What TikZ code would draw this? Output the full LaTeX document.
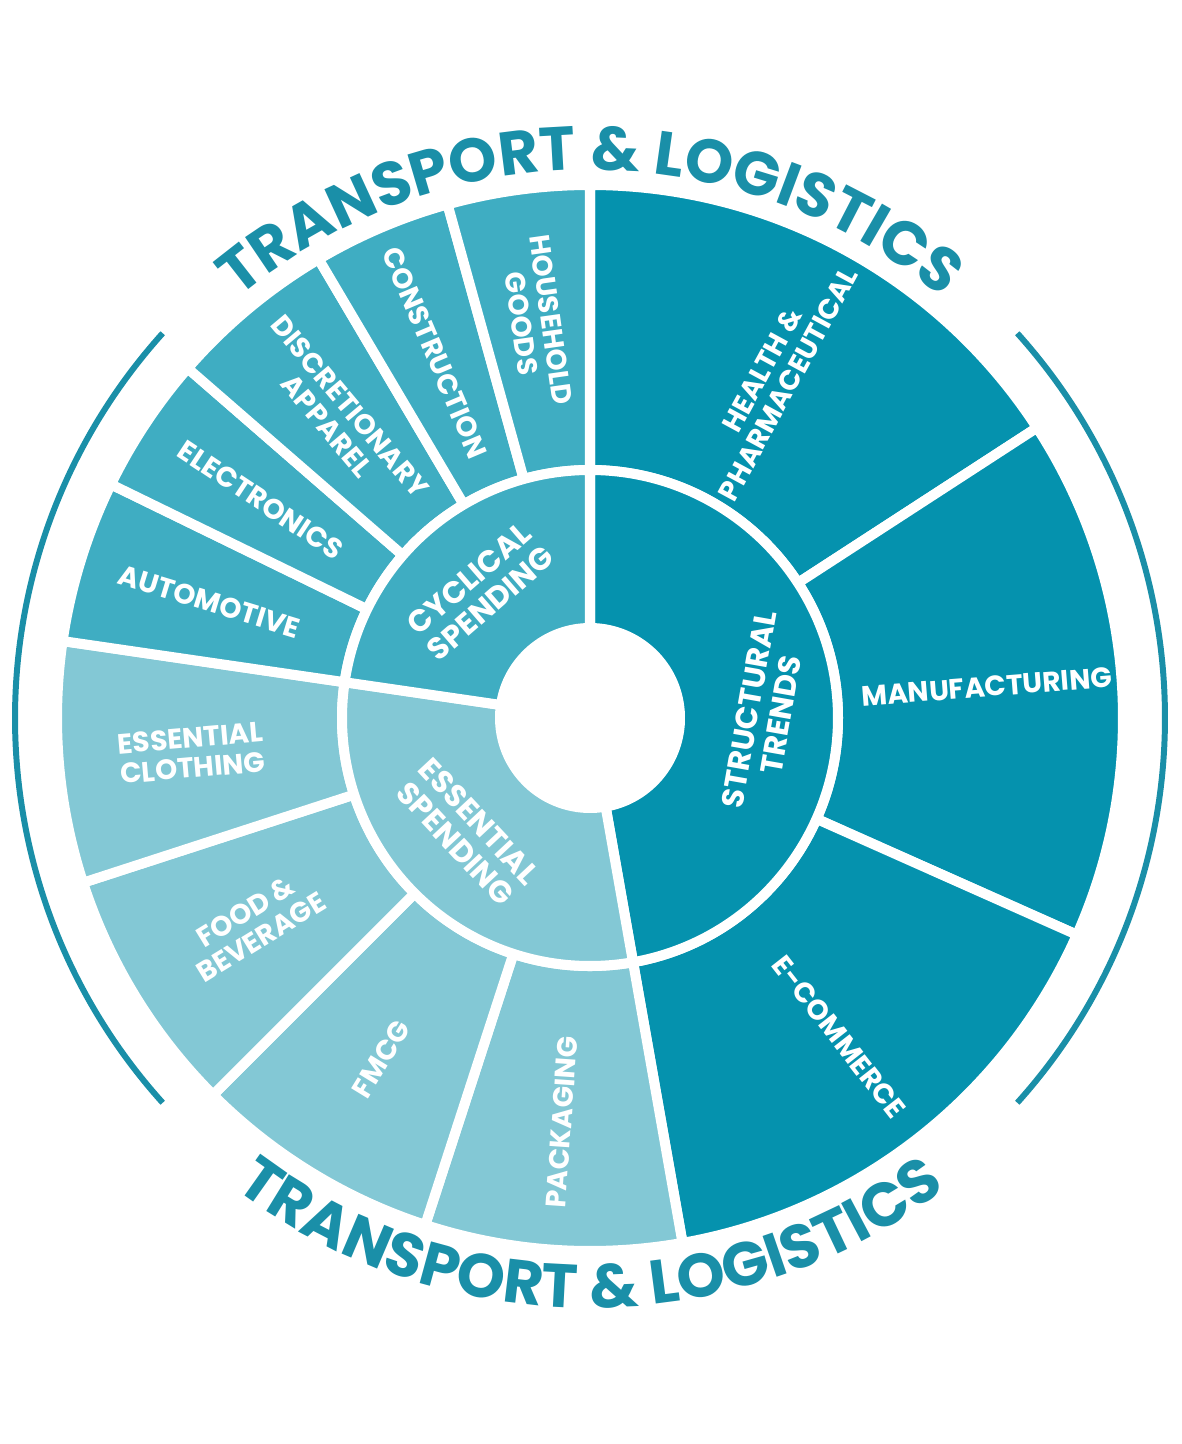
\documentclass[tikz,border=0pt]{standalone}
\usepackage{fontspec}
\setmainfont{Poppins}
\usetikzlibrary{decorations.text}

\definecolor{structc}{HTML}{0592AE}
\definecolor{cyclc}{HTML}{3FADC2}
\definecolor{essc}{HTML}{83C8D5}
\definecolor{titlec}{HTML}{1A8FA8}

\tikzset{
    wedge/.style={draw=white, line width=5.7pt},
    lbl/.style={text=white, font=\bfseries\fontsize{16}{17}\selectfont, align=center, inner sep=0pt},
    ringlbl/.style={text=white, font=\bfseries\fontsize{17.5}{18.5}\selectfont, align=center, inner sep=0pt},
    bracket/.style={draw=titlec, line width=3.4pt},
    titletext/.style={decorate, decoration={text along path, text align=center, text color=titlec,
        text={|\bfseries\fontsize{35}{35}\selectfont|TRANSPORT {\&} LOGISTICS}}}
}

\begin{document}
\begin{tikzpicture}[x=0.02cm, y=0.02cm]
        \useasboundingbox (-590,-726) rectangle (591,718);

        % outer ring
        \foreach \a/\b/\c in {90/33/structc, 33/-24/structc, -24/-80/structc,
                280/252/essc, 252/225/essc, 225/198/essc, 198/171.7/essc,
                171.7/154/cyclc, 154/139/cyclc, 139/120.6/cyclc, 120.6/105.5/cyclc, 105.5/90/cyclc}
            \filldraw[wedge, fill=\c] (\a:533) arc[start angle=\a, end angle=\b, radius=533]
                -- (\b:248) arc[start angle=\b, end angle=\a, radius=248] -- cycle;

        % inner ring
        \filldraw[wedge, fill=structc] (90:248) arc[start angle=90, end angle=-80, radius=248]
            -- (-80:90) arc[start angle=-80, end angle=90, radius=90] -- cycle;
        \filldraw[wedge, fill=essc] (280:248) arc[start angle=280, end angle=171.7, radius=248]
            -- (171.7:90) arc[start angle=171.7, end angle=280, radius=90] -- cycle;
        \filldraw[wedge, fill=cyclc] (171.7:248) arc[start angle=171.7, end angle=90, radius=248]
            -- (90:90) arc[start angle=90, end angle=171.7, radius=90] -- cycle;
        \fill[white] (0,0) circle (90);

        % inner labels
        \node[ringlbl, rotate=80] (structural) at (2:175) {STRUCTURAL\\TRENDS};
        \node[ringlbl, rotate=41] (cyclical) at (131:168) {CYCLICAL\\SPENDING};
        \node[ringlbl, rotate=-47] (essential) at (223:168) {ESSENTIAL\\SPENDING};

        % outer labels
        \node[lbl, rotate=61.5] (health) at (61.5:388) {HEALTH \&\\PHARMACEUTICAL};
        \node[lbl, rotate=4.5] (manuf) at (4.5:398) {MANUFACTURING};
        \node[lbl, rotate=-52] (ecom) at (-52:405) {E-COMMERCE};
        \node[lbl, rotate=86] (pack) at (-94:405) {PACKAGING};
        \node[lbl, rotate=58.5] (fmcg) at (238.5:400) {FMCG};
        \node[lbl, rotate=31.5] (food) at (211.5:395) {FOOD \&\\BEVERAGE};
        \node[lbl, rotate=5] (clothing) at (185:400) {ESSENTIAL\\CLOTHING};
        \node[lbl, rotate=-17] (auto) at (163:398) {AUTOMOTIVE};
        \node[lbl, rotate=-33.5] (elec) at (146.5:395) {ELECTRONICS};
        \node[lbl, rotate=-50] (disc) at (129.8:393) {DISCRETIONARY\\APPAREL};
        \node[lbl, rotate=-67] (constr) at (113:397) {CONSTRUCTION};
        \node[lbl, rotate=-82] (house) at (97.75:400) {HOUSEHOLD\\GOODS};

        % side arcs
        \draw[bracket] (138:575) arc[start angle=138, end angle=222, radius=575];
        \draw[bracket] (42:575) arc[start angle=42, end angle=-42, radius=575];

        % titles
        \path[titletext] (136:548) arc[start angle=136, end angle=44, radius=548];
        \path[titletext] (224:590) arc[start angle=224, end angle=316, radius=590];
    \end{tikzpicture}
\end{document}
